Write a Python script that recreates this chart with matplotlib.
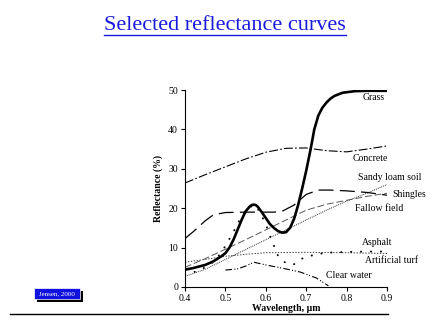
import matplotlib
matplotlib.use("Agg")
import matplotlib.pyplot as plt
from matplotlib.patches import Rectangle
from matplotlib.lines import Line2D

SERIF = ["Liberation Serif", "DejaVu Serif"]

# Reflectance (%) versus wavelength (um) for selected surface materials
grass_wl = [0.40, 0.42, 0.45, 0.47, 0.49, 0.50, 0.51, 0.52, 0.53, 0.54, 0.55,
            0.56, 0.565, 0.57, 0.575, 0.58, 0.59, 0.60, 0.61, 0.62, 0.63,
            0.64, 0.65, 0.66, 0.67, 0.68, 0.69, 0.70, 0.705, 0.71, 0.715,
            0.72, 0.73, 0.74, 0.75, 0.76, 0.77, 0.79, 0.82, 0.85, 0.90]
grass_r = [4.4, 4.8, 5.6, 6.5, 7.8, 8.6, 10.0, 12.0, 14.5, 17.0, 19.2,
           20.4, 20.8, 20.9, 20.8, 20.4, 19.0, 17.5, 16.0, 15.0, 14.2,
           13.8, 13.9, 15.0, 17.3, 20.8, 25.0, 29.5, 32.0, 34.5, 37.2,
           40.0, 43.5, 45.5, 46.8, 47.8, 48.5, 49.3, 49.7, 49.8, 49.8]

concrete_wl = [0.40, 0.45, 0.50, 0.55, 0.60, 0.65, 0.70, 0.75, 0.80, 0.85, 0.90]
concrete_r = [26.4, 28.5, 30.5, 32.5, 34.2, 35.2, 35.3, 34.6, 34.3, 35.0, 35.8]

sandy_wl = [0.40, 0.45, 0.50, 0.55, 0.60, 0.65, 0.70, 0.75, 0.80, 0.85, 0.90]
sandy_r = [2.7, 4.5, 7.0, 9.5, 12.0, 14.5, 17.0, 19.5, 21.8, 23.8, 26.0]

shingles_wl = [0.40, 0.42, 0.45, 0.47, 0.50, 0.55, 0.60, 0.62, 0.64, 0.67,
               0.70, 0.73, 0.76, 0.80, 0.85, 0.90]
shingles_r = [12.3, 14.0, 16.8, 18.3, 18.9, 19.0, 19.0, 19.0, 19.2, 20.8,
              23.5, 24.6, 24.6, 24.4, 24.0, 23.3]

fallow_wl = [0.40, 0.45, 0.50, 0.55, 0.60, 0.65, 0.70, 0.75, 0.80, 0.85, 0.90]
fallow_r = [5.0, 7.2, 9.6, 12.0, 14.5, 17.0, 19.5, 21.0, 22.0, 23.0, 23.8]

asphalt_wl = [0.40, 0.45, 0.50, 0.55, 0.60, 0.70, 0.80, 0.90]
asphalt_r = [6.3, 7.0, 7.8, 8.3, 8.7, 8.8, 8.7, 8.5]

turf_wl = [0.40, 0.43, 0.46, 0.48, 0.50, 0.52, 0.54, 0.56, 0.575, 0.59, 0.60,
           0.61, 0.62, 0.63, 0.65, 0.67, 0.69, 0.72, 0.75, 0.80, 0.85, 0.90]
turf_r = [3.2, 4.0, 5.5, 7.4, 10.4, 14.0, 18.0, 20.3, 20.8, 18.0, 16.0,
          13.0, 10.5, 8.0, 6.0, 5.8, 7.2, 8.2, 8.7, 8.9, 9.0, 9.0]

water_wl = [0.50, 0.53, 0.55, 0.57, 0.60, 0.64, 0.685, 0.725, 0.755]
water_r = [4.3, 4.6, 5.3, 6.3, 5.6, 4.8, 3.8, 2.3, 0.3]

x_ticks = [0.4, 0.5, 0.6, 0.7, 0.8, 0.9]
x_tick_labels = ["0.4", "0.5", "0.6", "0.7", "0.8", "0.9"]
y_ticks = [0, 10, 20, 30, 40, 50]

fig = plt.figure(figsize=(4.42, 3.24), dpi=100)
fig.patch.set_facecolor("white")

ax = fig.add_axes([185 / 442, 37 / 324, 202 / 442, 197 / 324])
ax.set_xlim(0.4, 0.9)
ax.set_ylim(0, 50)

ax.plot(concrete_wl, concrete_r, color="black", lw=0.8,
        linestyle=(0, (8, 2, 1.5, 2)))
ax.plot(sandy_wl, sandy_r, color="#333333", lw=0.7, linestyle=(0, (1, 1)))
ax.plot(shingles_wl, shingles_r, color="black", lw=0.9,
        linestyle=(0, (12, 5)))
ax.plot(fallow_wl, fallow_r, color="#555555", lw=0.7,
        linestyle=(0, (7, 3)))
ax.plot(asphalt_wl, asphalt_r, color="#444444", lw=0.7,
        linestyle=(0, (1.5, 1.5)))
ax.plot(turf_wl, turf_r, color="black", lw=1.4,
        linestyle=(0, (0.1, 5)), dash_capstyle="round")
ax.plot(water_wl, water_r, color="black", lw=0.8,
        linestyle=(0, (6, 2, 1, 1.5, 1, 2)))
ax.plot(grass_wl, grass_r, color="black", lw=1.9, solid_joinstyle="round")

for s in ("top", "right"):
    ax.spines[s].set_visible(False)
for s in ("left", "bottom"):
    ax.spines[s].set_linewidth(0.8)

ax.set_xticks(x_ticks)
ax.set_xticklabels(x_tick_labels)
ax.set_yticks(y_ticks)
ax.tick_params(direction="out", length=3, width=0.8, labelsize=7, pad=2)
for lab in ax.get_xticklabels() + ax.get_yticklabels():
    lab.set_fontfamily(SERIF)

ax.set_xlabel("Wavelength, μm", fontsize=7, fontweight="bold",
              family=SERIF, labelpad=1)
ax.set_ylabel("Reflectance (%)", fontsize=7, fontweight="bold",
              family=SERIF, labelpad=4)

# Curve names
labels = [
    ("Grass", 0.866, 48.2, "center"),
    ("Concrete", 0.859, 32.5, "center"),
    ("Sandy loam soil", 0.906, 27.7, "center"),
    ("Shingles", 0.914, 23.4, "left"),
    ("Fallow field", 0.881, 20.0, "center"),
    ("Asphalt", 0.876, 11.2, "center"),
    ("Artificial turf", 0.911, 6.6, "center"),
    ("Clear water", 0.806, 3.0, "center"),
]
for text, x, y, ha in labels:
    ax.text(x, y, text, fontsize=7, family=SERIF, ha=ha, va="center",
            clip_on=False)

# Title with underline
title = fig.text(225 / 442, 1 - 26 / 324, "Selected reflectance curves",
                 fontsize=16, family=SERIF, color="#1a1adc",
                 ha="center", va="center")
fig.canvas.draw()
bb = title.get_window_extent()
uy = bb.y0 + 1
fig.add_artist(Line2D([bb.x0 / 442, bb.x1 / 442], [uy / 324, uy / 324],
                      color="#1a1adc", lw=1.0, transform=fig.transFigure))

# Source badge with drop shadow
fig.add_artist(Rectangle((37 / 442, 1 - 302 / 324), 46 / 442, 11 / 324,
                         transform=fig.transFigure, facecolor="black",
                         edgecolor="none"))
fig.add_artist(Rectangle((34 / 442, 1 - 299 / 324), 46 / 442, 11 / 324,
                         transform=fig.transFigure, facecolor="#1010e0",
                         edgecolor="white", lw=0.5))
fig.text(57 / 442, 1 - 293.5 / 324, "Jensen, 2000", fontsize=5,
         family=SERIF, color="white", ha="center", va="center")

# Bottom rule
fig.add_artist(Line2D([10 / 442, 388 / 442], [1 - 314 / 324, 1 - 314 / 324],
                      color="black", lw=1.0, transform=fig.transFigure))

fig.savefig("out.png", dpi=100, facecolor="white")
